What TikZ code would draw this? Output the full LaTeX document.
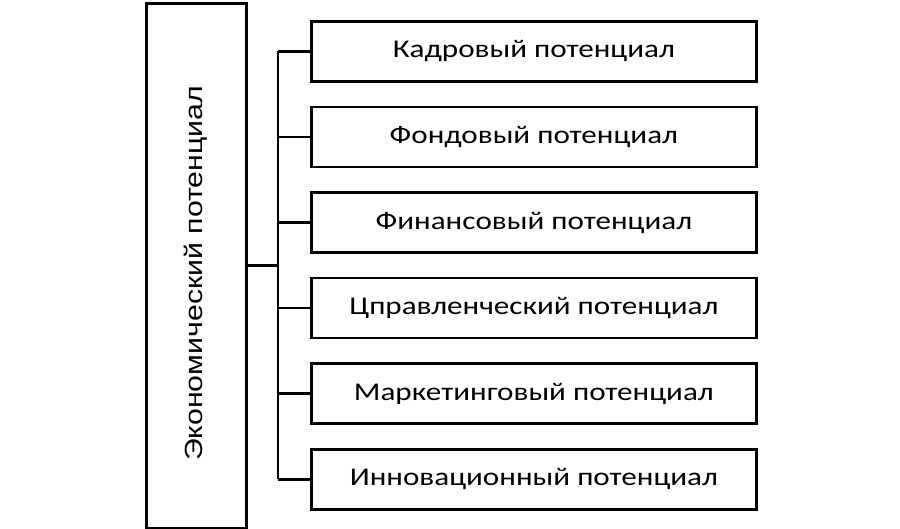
\documentclass[tikz,border=0pt]{standalone}
\usepackage{fontspec}
\setmainfont{Carlito}[FakeStretch=1.22]
\newfontfamily\vertfont{Liberation Sans}[FakeStretch=1.22]
\begin{document}
\begin{tikzpicture}[x=1pt,y=-1pt,
  box/.style={draw,line width=2.7pt,fill=white,inner sep=0pt,font=\fontsize{25.5}{30}\selectfont},
  conn/.style={line width=2.7pt}]
\useasboundingbox (0,0) rectangle (900,529);
\node[box,minimum width=100pt,minimum height=524pt,anchor=north west] (main) at (145,2.5) {};
\node[rotate=90,font=\vertfont\fontsize{24.8}{28}\selectfont] (maintext) at (195.5,273.5) {Экономический потенциал};
\foreach \i/\t in {1/Кадровый потенциал,2/Фондовый потенциал,3/Финансовый потенциал,4/Цправленческий потенциал,5/Маркетинговый потенциал,6/Инновационный потенциал}{
  \node[box,minimum width=445pt,minimum height=60pt,anchor=north west] (b\i) at (310,{20+(\i-1)*85.6}) {\t};
}
\coordinate (bus) at (278,0);
\draw[conn] (main.east) -- (main.east -| bus);
\draw[conn] (b1.west -| bus) -- (b6.west -| bus);
\foreach \i in {1,...,6}{
  \draw[conn] (b\i.west -| bus) -- (b\i.west);
}
\end{tikzpicture}
\end{document}
